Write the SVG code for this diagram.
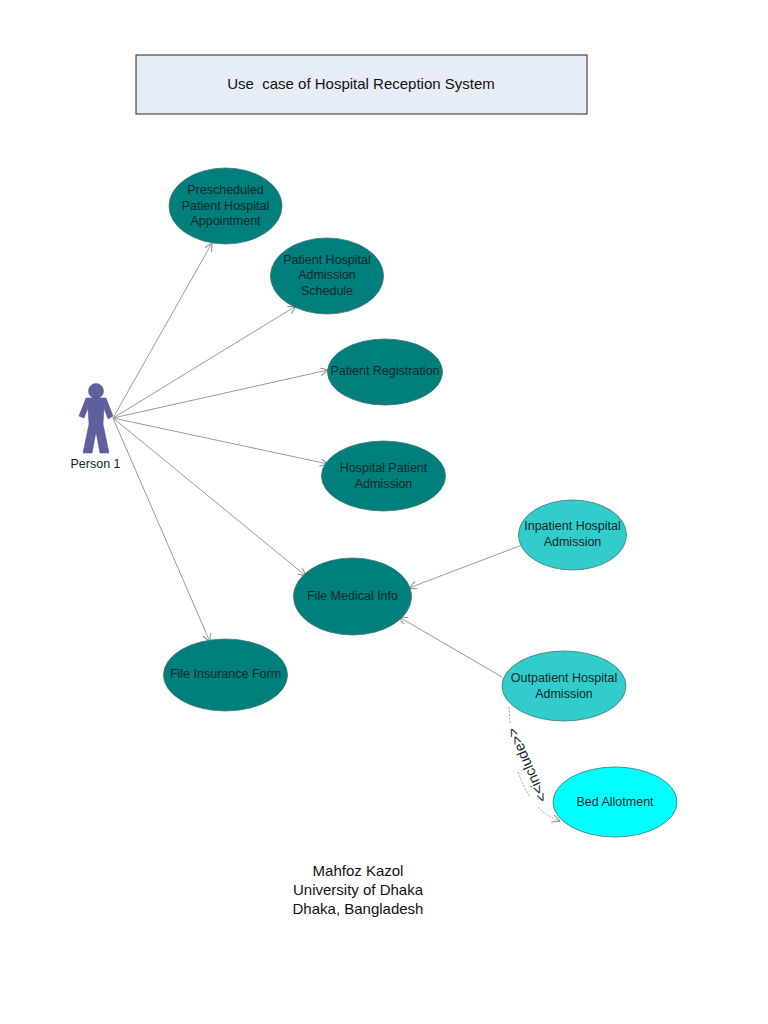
<svg xmlns="http://www.w3.org/2000/svg" width="768" height="1024" viewBox="0 0 768 1024">
<defs>
<style>
text{font-family:"Liberation Sans",Arial,sans-serif;font-size:12.5px;fill:#0a2a2b;text-anchor:middle}
.n{stroke:#3c7474;stroke-width:.8}
.a{fill:#007f7c}.b{fill:#33cccc}.c{fill:#00ffff}
.big{font-size:15px;fill:#111}
.l{stroke:#9a9a9a;stroke-width:1;fill:none;marker-end:url(#ah)}
</style>
<marker id="ah" markerUnits="userSpaceOnUse" markerWidth="10" markerHeight="10" refX="8" refY="4" orient="auto"><path d="M0 0L8 4L0 8" fill="none" stroke="#8c8c8c" stroke-width="1"/></marker>
</defs>
<rect width="768" height="1024" fill="#fff"/>
<g id="title"><rect x="136" y="55" width="451" height="59" fill="#e6edf7" stroke="#222" stroke-width="1"/><text class="big" x="361" y="89" xml:space="preserve">Use  case of Hospital Reception System</text></g>
<g id="connectors">
<path class="l" d="M113 418L212 243"/>
<path class="l" d="M113 418L296 306"/>
<path class="l" d="M113 418L328 370"/>
<path class="l" d="M113 418L328 464"/>
<path class="l" d="M113 418L306 576"/>
<path class="l" d="M113 418L210 642"/>
<path class="l" d="M522 545L409 588"/>
<path class="l" d="M502 677L399 617"/>
<path d="M509 707L510 723M518 772Q523 786 530 797M538 807Q546 816 560 821" fill="none" stroke="#999" stroke-width=".9" stroke-dasharray="2 1.500" marker-end="url(#ah)"/>
<text transform="translate(527 765) rotate(-113.500)" y="5" style="font-size:14.500px">&lt;&lt;include&gt;&gt;</text>
</g>
<g id="person"><g fill="#5f5f9e" stroke="#4a4a85" stroke-width=".5"><circle cx="96" cy="391" r="7.500"/><path d="M86 398H106L113 416L108 419L104 408L103 424L109 453H100L96 432L92 453H83L89 424L88 408L84 418L79 416Z"/></g><text x="95.500" y="468">Person 1</text></g>
<g id="uc1"><ellipse class="n a" cx="225.500" cy="206" rx="56.500" ry="38"/><text x="225.500" y="194">Prescheduled</text><text x="225.500" y="209.500">Patient Hospital</text><text x="225.500" y="225">Appointment</text></g>
<g id="uc2"><ellipse class="n a" cx="327" cy="276" rx="56.500" ry="38"/><text x="327" y="263.500">Patient Hospital</text><text x="327" y="279">Admission</text><text x="327" y="294.500">Schedule</text></g>
<g id="uc3"><ellipse class="n a" cx="385" cy="372" rx="57.500" ry="33"/><text x="385" y="375">Patient Registration</text></g>
<g id="uc4"><ellipse class="n a" cx="383.500" cy="476" rx="62" ry="35"/><text x="383.500" y="472">Hospital Patient</text><text x="383.500" y="487.500">Admission</text></g>
<g id="uc5"><ellipse class="n a" cx="352.500" cy="596.500" rx="59" ry="38.500"/><text x="352.500" y="600">File Medical Info</text></g>
<g id="uc6"><ellipse class="n a" cx="225.500" cy="675" rx="62" ry="36"/><text x="225.500" y="678">File Insurance Form</text></g>
<g id="uc7"><ellipse class="n b" cx="572.500" cy="535" rx="54" ry="35"/><text x="572.500" y="530">Inpatient Hospital</text><text x="572.500" y="545.500">Admission</text></g>
<g id="uc8"><ellipse class="n b" cx="564" cy="686" rx="62" ry="35"/><text x="564" y="682">Outpatient Hospital</text><text x="564" y="697.500">Admission</text></g>
<g id="uc9"><ellipse class="n c" cx="615" cy="802" rx="62" ry="35"/><text x="615" y="806">Bed Allotment</text></g>
<g id="credit"><text class="big" x="358" y="876">Mahfoz Kazol</text><text class="big" x="358" y="895">University of Dhaka</text><text class="big" x="358" y="914">Dhaka, Bangladesh</text></g>
</svg>
